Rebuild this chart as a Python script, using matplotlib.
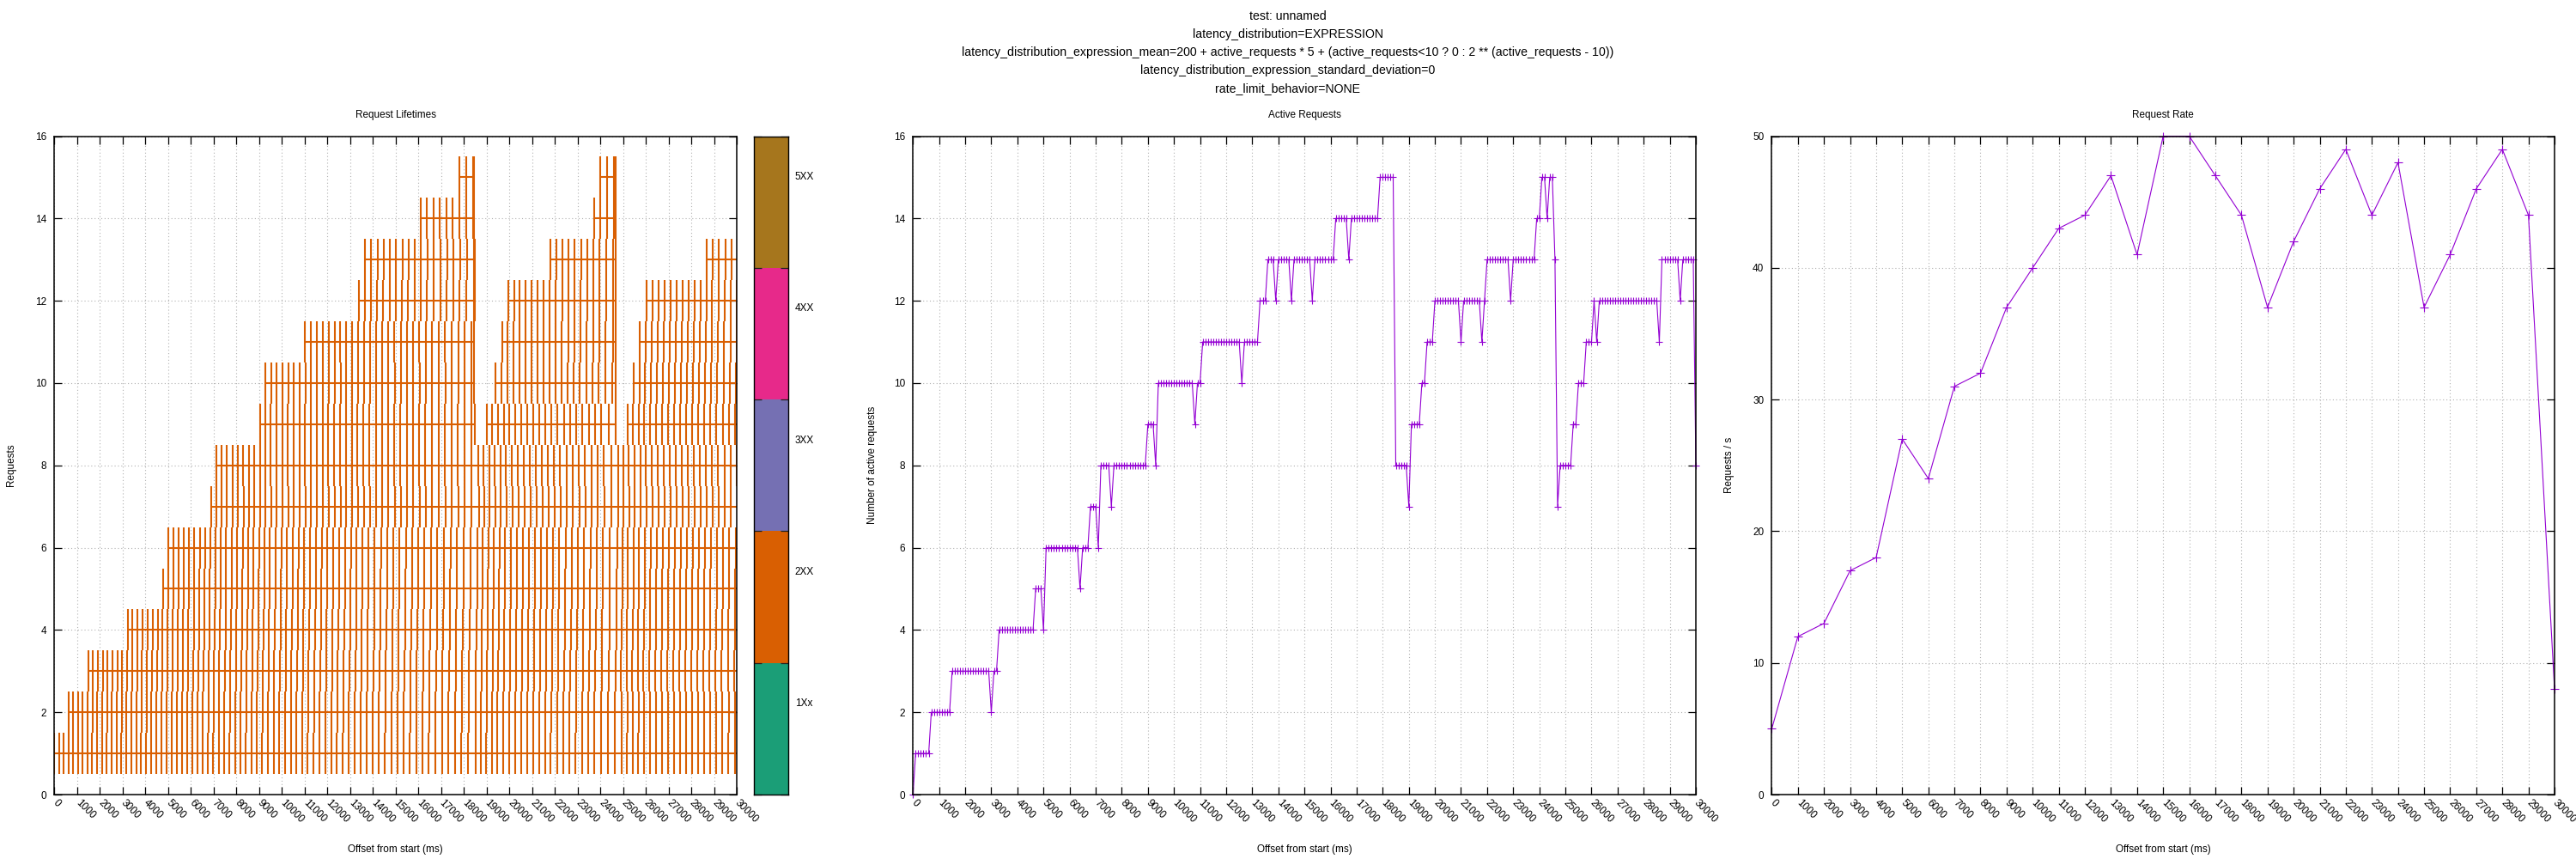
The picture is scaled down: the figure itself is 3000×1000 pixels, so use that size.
import matplotlib
matplotlib.use('Agg')
import matplotlib.pyplot as plt
from matplotlib.collections import LineCollection

plt.rcParams['font.family'] = ['Liberation Sans', 'DejaVu Sans']

W, H = 3000, 1000

title_lines = [
    'test: unnamed',
    'latency_distribution=EXPRESSION',
    'latency_distribution_expression_mean=200 + active_requests * 5 + '
    '(active_requests<10 ? 0 : 2 ** (active_requests - 10))',
    'latency_distribution_expression_standard_deviation=0',
    'rate_limit_behavior=NONE',
]

# status classes in the colour key
status_labels = ['1Xx', '2XX', '3XX', '4XX', '5XX']
status_colors = ['#1b9e77', '#d95f02', '#7570b3', '#e7298a', '#a6761d']

# request lifetimes: one row per concurrency slot, busy from start to end (ms)
slot_level = [1, 2, 3, 4, 5, 6, 7, 8,
              9, 9, 9, 10, 10, 10, 11, 11, 11, 12, 12, 12, 13, 13, 13,
              14, 14, 15, 15]
slot_start_ms = [0, 620, 1480, 3220, 4780, 5010, 6880, 7110,
                 9030, 19010, 25200, 9280, 19410, 25470, 11030, 19680, 25750,
                 13390, 19940, 26020, 13660, 21790, 28680,
                 16090, 23720, 17790, 24000]
slot_end_ms = [30300, 30300, 30300, 30300, 30300, 30300, 30300, 30300,
               18470, 24660, 30300, 18450, 24660, 30300, 18440, 24660, 30300,
               18480, 24660, 30300, 18480, 24660, 30300,
               18440, 24660, 18440, 24660]
slot_status = '2XX'

# latency of one request (ms) for 1..15 active requests
latency_by_active = [205, 210, 215, 220, 225, 230, 235, 240, 245,
                     251, 257, 264, 273, 286, 307]

# active requests, sampled every 100 ms: value holds from each step time on
SAMPLE_MS = 100
active_step_ms = [0, 100, 700, 1500, 3000, 3100, 3300, 4700, 5000, 5100,
                  6400, 6500, 6800, 7100, 7200, 7600, 7700, 9000, 9300, 9400,
                  10800, 10900, 11100, 12600, 12700, 13300, 13600, 13900, 14000,
                  14500, 14600, 15300, 15400, 16200, 16700, 16800, 17900, 18500,
                  19000, 19100, 19500, 19700, 20000, 21000, 21100, 21800, 21900,
                  22000, 22900, 23000, 23900, 24100, 24300, 24400, 24600, 24700,
                  24800, 25300, 25500, 25800, 26100, 26200, 26300, 28600, 28700,
                  29400, 29500, 30000]
active_step_value = [0, 1, 2, 3, 2, 3, 4, 5, 4, 6,
                     5, 6, 7, 6, 8, 7, 8, 9, 8, 10,
                     9, 10, 11, 10, 11, 12, 13, 12, 13,
                     12, 13, 12, 13, 14, 13, 14, 15, 8,
                     7, 9, 10, 11, 12, 11, 12, 11, 12,
                     13, 12, 13, 14, 15, 14, 15, 13, 7,
                     8, 9, 10, 11, 12, 11, 12, 11, 13,
                     12, 13, 8]

# request rate per 1 s bucket
rate_bucket_ms = [i * 1000 for i in range(31)]
rate_values = [5, 12, 13, 17, 18, 27, 24, 31, 32, 37, 40, 43, 44, 47, 41, 50,
               50, 47, 44, 37, 42, 46, 49, 44, 48, 37, 41, 46, 49, 44, 8]

x_ticks = list(range(0, 30001, 1000))

PURPLE = '#9400d3'
FS = 8.5

fig = plt.figure(figsize=(30, 10), dpi=100)


def px_axes(x0, y0, x1, y1):
    return fig.add_axes([x0 / W, 1 - y1 / H, (x1 - x0) / W, (y1 - y0) / H])


def ftext(x, y, s, **kw):
    fig.text(x / W, 1 - y / H, s, **kw)


def style_axes(ax, ymax, ystep):
    ax.set_xlim(0, 30000)
    ax.set_ylim(0, ymax)
    ax.set_xticks(x_ticks)
    ax.set_xticklabels([str(t) for t in x_ticks], rotation=-45, ha='left',
                       va='center', rotation_mode='anchor')
    ax.set_yticks(range(0, ymax + 1, ystep))
    ax.tick_params(direction='in', length=6.5, width=0.9, top=True, right=True,
                   labelsize=FS, colors='black')
    ax.tick_params(axis='x', pad=6)
    ax.tick_params(axis='y', pad=6.5)
    ax.grid(True, color='#b0b0b0', lw=0.8, ls=(0, (1, 2.5)))
    ax.set_axisbelow(True)
    for s in ax.spines.values():
        s.set_linewidth(1.1)


# suptitle
for i, line in enumerate(title_lines):
    ftext(1500, 19 + 21 * i, line, ha='center', va='center', fontsize=10.2)

# ---- Request Lifetimes
ax1 = px_axes(63.3, 158.5, 858, 925)
style_axes(ax1, 16, 2)


def active_at(t):
    return sum(1 for s, e in zip(slot_start_ms, slot_end_ms) if s <= t < e)


hsegs, vsegs = [], []
for lv, s, e in zip(slot_level, slot_start_ms, slot_end_ms):
    hsegs.append([(s, lv), (e, lv)])
    t = s
    bounds = [t]
    while True:
        t += latency_by_active[active_at(t) - 1]
        if t >= e:
            break
        bounds.append(t)
    bounds.append(e)
    for b in bounds:
        vsegs.append([(b, lv - 0.5), (b, lv + 0.5)])

life_color = status_colors[status_labels.index(slot_status)]
ax1.add_collection(LineCollection(vsegs, colors=life_color, linewidths=1.5))
ax1.add_collection(LineCollection(hsegs, colors=life_color, linewidths=1.5))
ftext(460.6, 133.5, 'Request Lifetimes', ha='center', va='center', fontsize=FS)
ftext(13.4, 541.5, 'Requests', ha='center', va='center', rotation=90, fontsize=FS)
ftext(460.6, 989, 'Offset from start (ms)', ha='center', va='center', fontsize=FS)

# colour key
axc = px_axes(877.7, 158.5, 917.5, 925)
for i, c in enumerate(status_colors):
    axc.bar(0, 1, bottom=i, width=1, align='edge', color=c, linewidth=0)
axc.set_xlim(0, 1)
axc.set_ylim(0, len(status_labels))
axc.set_xticks([])
axc.yaxis.tick_right()
axc.set_yticks([i + 0.7 for i in range(len(status_labels))])
axc.set_yticklabels(status_labels)
axc.set_yticks(range(len(status_labels) + 1), minor=True)
axc.tick_params(axis='y', which='major', length=0, pad=6, labelsize=FS)
axc.tick_params(axis='y', which='minor', direction='in', length=6.5, width=0.9,
                left=True, right=True, color='#222222')
for s in axc.spines.values():
    s.set_linewidth(1.0)

# ---- Active Requests
ax2 = px_axes(1063.3, 158.5, 1975, 925)
style_axes(ax2, 16, 2)
sample_t = list(range(0, 30001, SAMPLE_MS))
sample_v = []
k = 0
for t in sample_t:
    while k + 1 < len(active_step_ms) and active_step_ms[k + 1] <= t:
        k += 1
    sample_v.append(active_step_value[k])
ax2.plot(sample_t, sample_v, color=PURPLE, lw=0.8, marker='+', ms=6, mew=0.8,
         clip_on=False)
ftext(1519, 133.5, 'Active Requests', ha='center', va='center', fontsize=FS)
ftext(1016, 541.5, 'Number of active requests', ha='center', va='center',
      rotation=90, fontsize=FS)
ftext(1519, 989, 'Offset from start (ms)', ha='center', va='center', fontsize=FS)

# ---- Request Rate
ax3 = px_axes(2063.4, 158.5, 2975, 925)
style_axes(ax3, 50, 10)
ax3.plot(rate_bucket_ms, rate_values, color=PURPLE, lw=0.8, marker='+', ms=7,
         mew=0.8, clip_on=False)
ftext(2519, 133.5, 'Request Rate', ha='center', va='center', fontsize=FS)
ftext(2014.5, 541.5, 'Requests / s', ha='center', va='center', rotation=90,
      fontsize=FS)
ftext(2519, 989, 'Offset from start (ms)', ha='center', va='center', fontsize=FS)

fig.savefig('out.png', dpi=100)
